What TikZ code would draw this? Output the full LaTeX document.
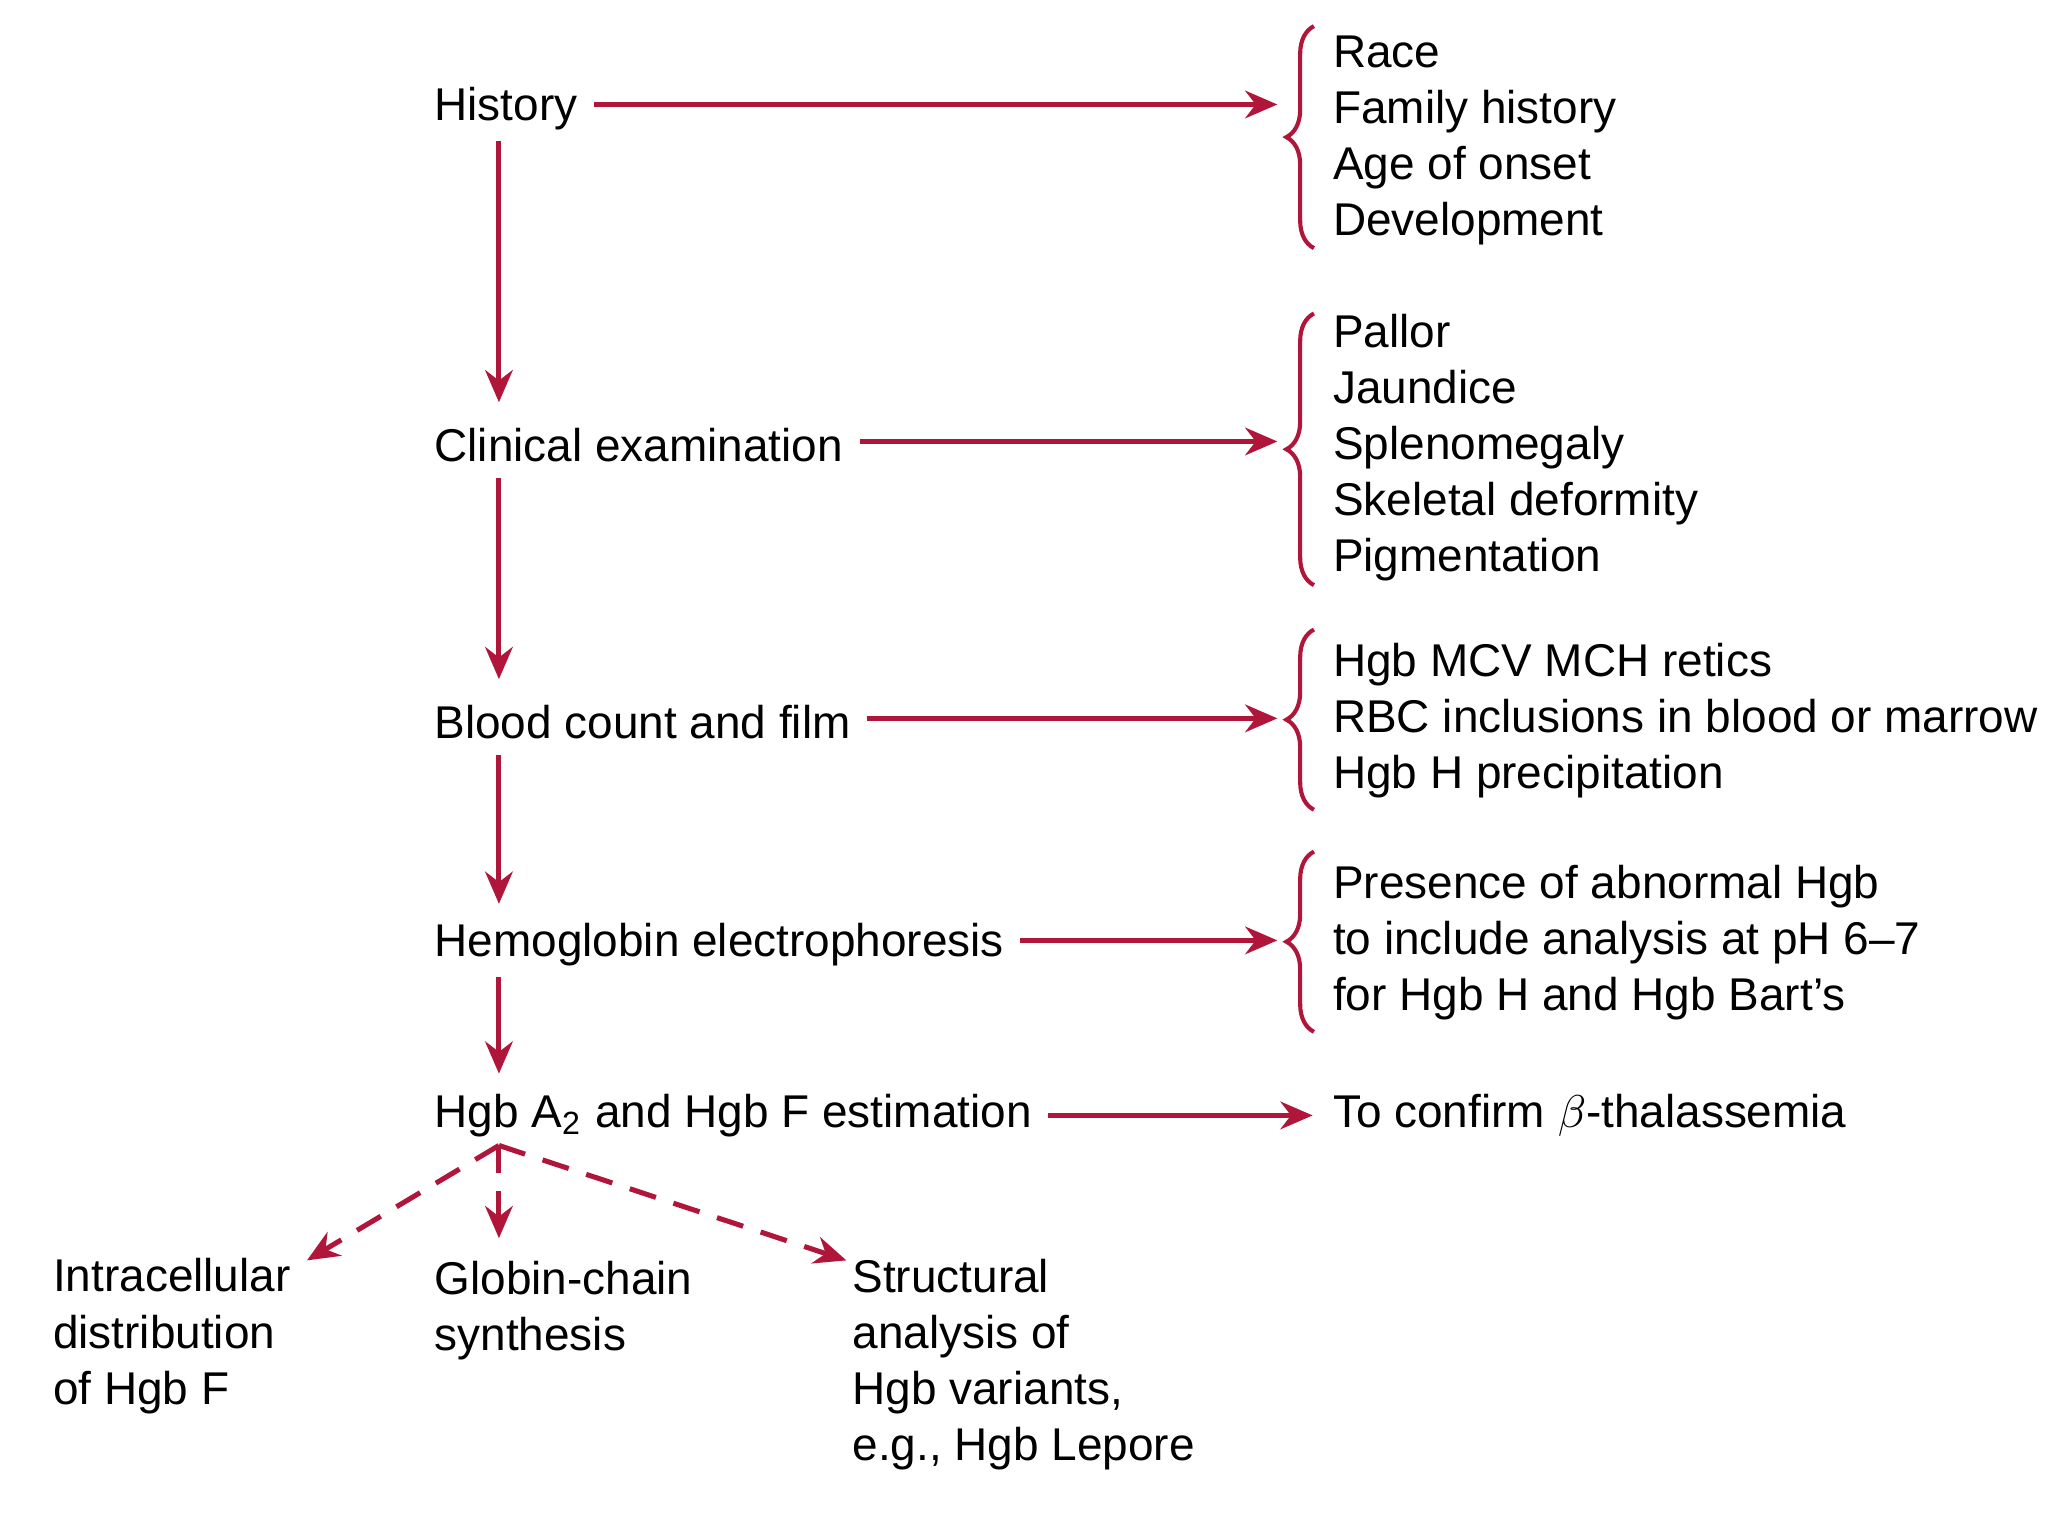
\documentclass[tikz,border=0pt]{standalone}
\usepackage{fontspec}
\setmainfont{Liberation Sans}
\usetikzlibrary{decorations.pathreplacing,arrows.meta}
\definecolor{crim}{HTML}{B0153A}
\begin{document}
\begin{tikzpicture}[x=0.01cm,y=-0.01cm,
  txt/.style={anchor=west,inner sep=0pt,align=left,font=\fontsize{10}{12.2}\selectfont},
  arr/.style={draw=crim,line width=1.1pt,-{Stealth[length=7pt,width=6pt]}},
  darr/.style={arr,dashed,dash pattern=on 6pt off 4pt},
  br/.style={draw=crim,line width=0.9pt,decorate,decoration={brace,amplitude=6pt,aspect=0.5}}]
\useasboundingbox (0,0) rectangle (1568,1176);
\node[txt] (h) at (332,83) {History};
\node[txt] (c) at (332,341) {Clinical examination};
\node[txt] (b) at (332,553) {Blood count and film};
\node[txt] (e) at (332,723) {Hemoglobin electrophoresis};
\node[txt] (a) at (332,854) {Hgb A\textsubscript{2} and Hgb F estimation};
\node[txt] (l1) at (1020,107.5) {Race\\Family history\\Age of onset\\Development};
\node[txt] (l2) at (1020,343) {Pallor\\Jaundice\\Splenomegaly\\Skeletal deformity\\Pigmentation};
\node[txt] (l3) at (1020,552) {Hgb MCV MCH retics\\RBC inclusions in blood or marrow\\Hgb H precipitation};
\node[txt] (l4) at (1020,722) {Presence of abnormal Hgb\\to include analysis at pH 6--7\\for Hgb H and Hgb Bart's};
\node[txt] (l5) at (1020,854) {To confirm $\beta$-thalassemia};
\node[txt] (d1) at (40,1023) {Intracellular\\distribution\\of Hgb F};
\node[txt] (d2) at (332,1003.5) {Globin-chain\\synthesis};
\node[txt] (d3) at (652,1044.5) {Structural\\analysis of\\Hgb variants,\\e.g., Hgb Lepore};
\coordinate (t1) at (978,80); \coordinate (t2) at (978,338); \coordinate (t3) at (978,550);
\coordinate (t4) at (978,720); \coordinate (t5) at (1005,854);
\draw[arr] ([xshift=3.4pt]h.east|-t1) -- (t1);
\draw[arr] ([xshift=3.4pt]c.east|-t2) -- (t2);
\draw[arr] ([xshift=3.4pt]b.east|-t3) -- (t3);
\draw[arr] ([xshift=3.4pt]e.east|-t4) -- (t4);
\draw[arr] ([xshift=3.4pt]a.east|-t5) -- (t5);
\draw[arr] (382,108) -- (382,308);
\draw[arr] (382,366) -- (382,520);
\draw[arr] (382,578) -- (382,692);
\draw[arr] (382,748) -- (382,822);
\coordinate (s) at (382,877);
\draw[darr] (s) -- (235,965);
\draw[darr] (s) -- (382,948);
\draw[darr] (s) -- (648,965);
\draw[br] (1006,190) -- (1006,20);
\draw[br] (1006,448) -- (1006,240);
\draw[br] (1006,620) -- (1006,482);
\draw[br] (1006,790) -- (1006,652);
\end{tikzpicture}
\end{document}
